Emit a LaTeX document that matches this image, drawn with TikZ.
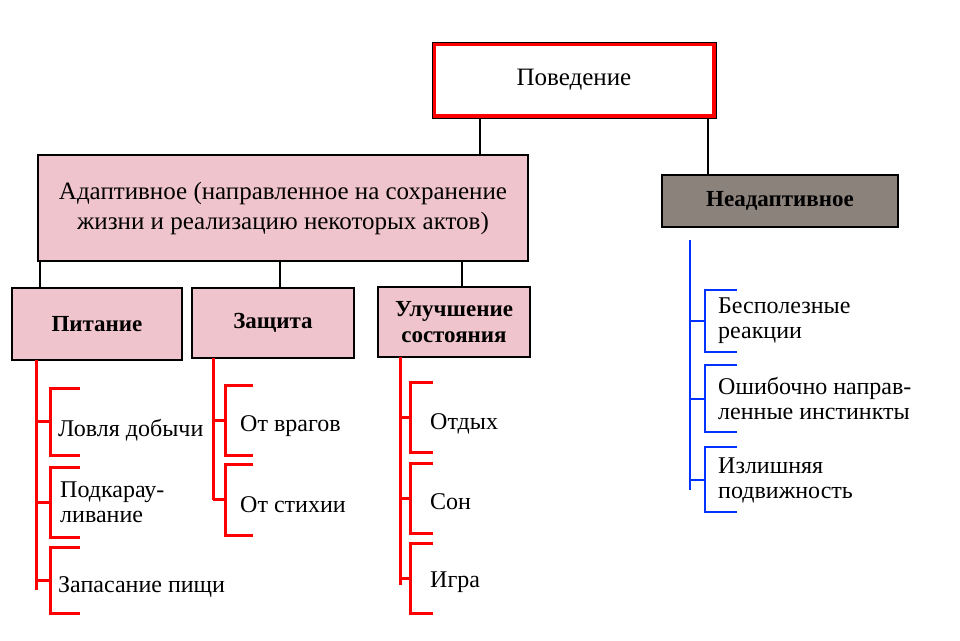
\documentclass[tikz,border=0pt]{standalone}
\usepackage{fontspec}
\setmainfont{Liberation Serif}
\begin{document}
\begin{tikzpicture}[x=1pt,y=-1pt,
  box/.style={draw=black,line width=2pt,fill=pinkbox,align=center,font=\fontsize{25}{30}\selectfont},
  hd/.style={font=\fontsize{23}{26}\selectfont\bfseries},
  lbl/.style={anchor=west,align=left,font=\fontsize{24}{25}\selectfont,inner sep=0pt},
  conn/.style={draw=black,line width=1.6pt},
  rb/.style={draw=red,line width=3pt},
  bb/.style={draw=blue!80!cyan,line width=2pt}]
\definecolor{pinkbox}{RGB}{240,196,204}
\definecolor{graybox}{RGB}{140,130,124}
\useasboundingbox (0,0) rectangle (960,640);
% top
\node[draw=red,line width=3.5pt,fill=white,minimum width=280,minimum height=72,font=\fontsize{25}{27}\selectfont] (top) at (574,80) {Поведение};
\draw[black,line width=0.8pt] (432,42) rectangle (716,118);
\node[box,minimum width=490,minimum height=106] (ad) at (283,208) {Адаптивное (направленное на сохранение\\жизни и реализацию некоторых актов)};
\node[box,fill=graybox,minimum width=236,minimum height=52,hd] (na) at (780,201) {Неадаптивное};
\coordinate (t1) at (480,118); \coordinate (t2) at (708,118);
\draw[conn] (t1) -- (ad.north -| t1);
\draw[conn] (t2) -- (na.north -| t2);
\node[box,minimum width=170,minimum height=72,hd] (pit) at (97,324) {Питание};
\node[box,minimum width=162,minimum height=70,hd] (zas) at (273,323) {Защита};
\node[box,minimum width=152,minimum height=70,hd] (ulu) at (454,322) {Улучшение\\состояния};
\draw[conn] (ad.south -| 40,0) -- (pit.north -| 40,0);
\draw[conn] (ad.south -| 280,0) -- (zas.north -| 280,0);
\draw[conn] (ad.south -| 462,0) -- (ulu.north -| 462,0);
% Питание
\coordinate (p0) at (36,360);
\draw[rb] (p0) -- (36,590);
\foreach \a/\b in {388/455,467/537,547/613}{
  \draw[rb] (80,\a) -- (50,\a) -- (50,\b) -- (80,\b);
  \draw[rb] (36,{(\a+\b)/2}) -- (50,{(\a+\b)/2});}
\node[lbl] (p1) at (58,430) {Ловля добычи};
\node[lbl] (p2) at (60,502) {Подкарау-\\ливание};
\node[lbl] (p3) at (58,587) {Запасание пищи};
% Защита
\draw[rb] (213,358) -- (213,500);
\foreach \a/\b in {385/455,464/535}{
  \draw[rb] (253,\a) -- (225,\a) -- (225,\b) -- (253,\b);
  \draw[rb] (213,{(\a+\b)/2}) -- (225,{(\a+\b)/2});}
\node[lbl] (z1) at (240,426) {От врагов};
\node[lbl] (z2) at (240,505) {От стихии};
% Улучшение
\draw[rb] (400,357) -- (400,585);
\foreach \a/\b in {382/452,463/533,543/613}{
  \draw[rb] (433,\a) -- (410,\a) -- (410,\b) -- (433,\b);
  \draw[rb] (400,{(\a+\b)/2}) -- (410,{(\a+\b)/2});}
\node[lbl] (u1) at (430,424) {Отдых};
\node[lbl] (u2) at (430,502) {Сон};
\node[lbl] (u3) at (430,582) {Игра};
% Неадаптивное
\draw[bb] (690,240) -- (690,490);
\foreach \a/\b in {290/352,365/432,447/512}{
  \draw[bb] (737,\a) -- (705,\a) -- (705,\b) -- (737,\b);
  \draw[bb] (690,{(\a+\b)/2}) -- (705,{(\a+\b)/2});}
\node[lbl] (n1) at (718,321) {Бесполезные\\реакции};
\node[lbl] (n2) at (718,399) {Ошибочно направ-\\ленные инстинкты};
\node[lbl] (n3) at (718,480) {Излишняя\\подвижность};
\end{tikzpicture}
\end{document}
